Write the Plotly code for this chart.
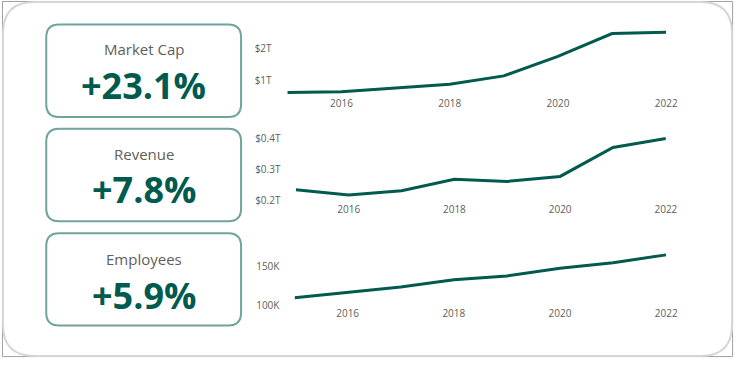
import plotly.graph_objects as go

W, H = 750, 368

years = [2015, 2016, 2017, 2018, 2019, 2020, 2021, 2022]
market_cap = [0.62, 0.64, 0.76, 0.88, 1.14, 1.75, 2.47, 2.51]      # $T
revenue = [0.235, 0.218, 0.232, 0.269, 0.262, 0.278, 0.371, 0.400]  # $T
employees = [110, 117, 124, 133, 138, 148, 155, 165]                # K

kpi_titles = ["Market Cap", "Revenue", "Employees"]
kpi_values = ["+23.1%", "+7.8%", "+5.9%"]

mc_ticks = [1, 2]
mc_ticktext = ["$1T", "$2T"]
rev_ticks = [0.2, 0.3, 0.4]
rev_ticktext = ["$0.2T", "$0.3T", "$0.4T"]
emp_ticks = [100, 150]
emp_ticktext = ["100K", "150K"]
x_ticks = [2016, 2018, 2020, 2022]

LINE = "#005A4E"
BOX = "#6FA39B"
GRAY = "#605E5C"
FONT = "Segoe UI, Open Sans, sans-serif"


def px(x):
    return x / W


def py(y):
    return 1 - y / H


def rounded_path(x0, y0, x1, y1, r):
    pts = [
        f"M {px(x0 + r)} {py(y0)}",
        f"L {px(x1 - r)} {py(y0)}",
        f"Q {px(x1)} {py(y0)} {px(x1)} {py(y0 + r)}",
        f"L {px(x1)} {py(y1 - r)}",
        f"Q {px(x1)} {py(y1)} {px(x1 - r)} {py(y1)}",
        f"L {px(x0 + r)} {py(y1)}",
        f"Q {px(x0)} {py(y1)} {px(x0)} {py(y1 - r)}",
        f"L {px(x0)} {py(y0 + r)}",
        f"Q {px(x0)} {py(y0)} {px(x0 + r)} {py(y0)}",
        "Z",
    ]
    return " ".join(pts)


fig = go.Figure()

series = [market_cap, revenue, employees]
for i, s in enumerate(series):
    suffix = "" if i == 0 else str(i + 1)
    fig.add_trace(go.Scatter(
        x=years, y=s, mode="lines",
        line=dict(color=LINE, width=3),
        xaxis="x" + suffix, yaxis="y" + suffix,
        showlegend=False, hoverinfo="skip",
    ))

panels = [
    dict(lab_right=273, x15=292.0, ppy=55.0, top=28, bottom=98, yref_px=81.7, vref=1.0, ppu=32.4,
         tv=mc_ticks, tt=mc_ticktext),
    dict(lab_right=282, x15=300.6, ppy=53.73, top=133, bottom=205, yref_px=204.0, vref=0.2, ppu=316.0,
         tv=rev_ticks, tt=rev_ticktext),
    dict(lab_right=281, x15=299.35, ppy=53.95, top=250, bottom=311.5, yref_px=310.7, vref=100.0, ppu=0.794,
         tv=emp_ticks, tt=emp_ticktext),
]

layout_axes = {}
for i, p in enumerate(panels):
    suffix = "" if i == 0 else str(i + 1)
    right_px = p["x15"] + 7 * p["ppy"]
    y_hi = p["vref"] + (p["yref_px"] - p["top"]) / p["ppu"]
    y_lo = p["vref"] - (p["bottom"] - p["yref_px"]) / p["ppu"]
    layout_axes["xaxis" + suffix] = dict(
        domain=[px(p["x15"]), px(right_px)], range=[2015, 2022],
        anchor="y" + suffix, tickvals=x_ticks, showgrid=False, zeroline=False,
        showline=False, ticks="", tickfont=dict(family=FONT, size=10, color=GRAY),
        fixedrange=True,
    )
    layout_axes["yaxis" + suffix] = dict(
        domain=[py(p["bottom"]), py(p["top"])], range=[y_lo, y_hi],
        anchor="free", position=px(p["lab_right"] + 3), side="left",
        tickvals=p["tv"], ticktext=p["tt"], showgrid=False,
        zeroline=False, showline=False, ticks="",
        tickfont=dict(family=FONT, size=10, color=GRAY), fixedrange=True,
    )

shapes = []
shapes.append(dict(type="rect", xref="paper", yref="paper",
                   x0=px(2.5), x1=px(744.5), y0=py(362.5), y1=py(1.5),
                   line=dict(color="#A0A0A0", width=1), layer="below"))
shapes.append(dict(type="path", xref="paper", yref="paper",
                   path=rounded_path(3, 2, 744, 362, 32),
                   line=dict(color="#D6D6D6", width=2), layer="below"))

boxes = [(25, 119), (131, 225), (237, 331)]
title_y = [50, 157, 263]
value_y = [87, 193, 300]
for (t, b) in boxes:
    shapes.append(dict(type="path", xref="paper", yref="paper",
                       path=rounded_path(47, t, 245, b, 13),
                       line=dict(color=BOX, width=2), layer="below"))

annotations = []
for ty, vy, title, val in zip(title_y, value_y, kpi_titles, kpi_values):
    annotations.append(dict(xref="paper", yref="paper", x=px(146), y=py(ty),
                            text=title, showarrow=False, xanchor="center", yanchor="middle",
                            font=dict(family=FONT, size=15, color=GRAY)))
    annotations.append(dict(xref="paper", yref="paper", x=px(146), y=py(vy),
                            text=f"<b>{val}</b>", showarrow=False, xanchor="center", yanchor="middle",
                            font=dict(family=FONT, size=36, color=LINE)))

fig.update_layout(
    width=W, height=H, autosize=False, margin=dict(l=0, r=0, t=0, b=0),
    paper_bgcolor="white", plot_bgcolor="rgba(0,0,0,0)",
    shapes=shapes, annotations=annotations, **layout_axes,
)

fig.write_html("out.html", config=dict(displayModeBar=False, responsive=False))
